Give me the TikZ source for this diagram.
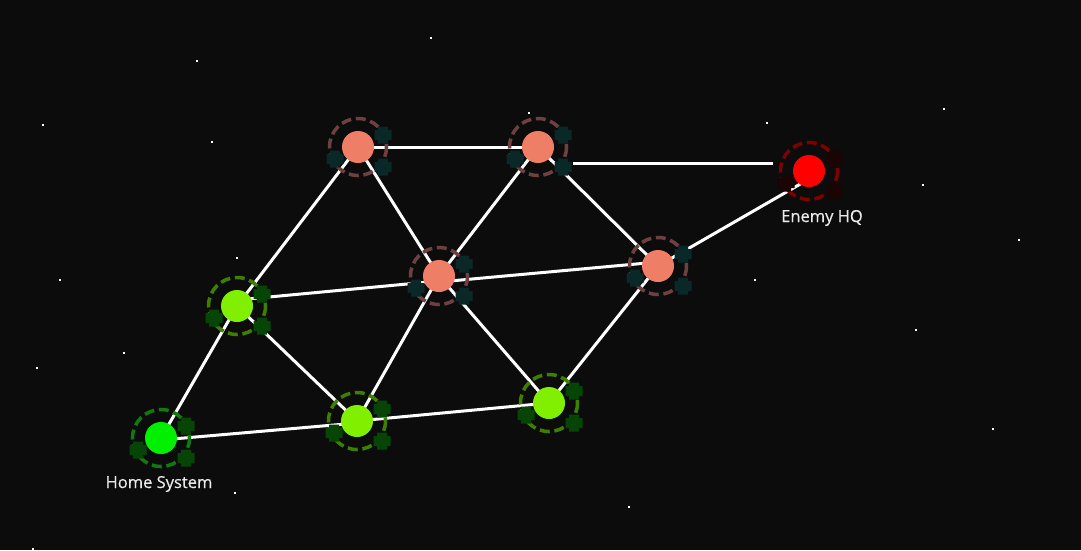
\documentclass[tikz,border=0pt]{standalone}
\usepackage{fontspec}
\setmainfont{Open Sans}
\newfontfamily\lblfont[FakeBold=0.5]{Open Sans}
\usetikzlibrary{calc}
\pgfdeclarelayer{bglayer}
\pgfdeclarelayer{linelayer}
\pgfsetlayers{bglayer,linelayer,main}
\definecolor{bgc}{HTML}{0C0C0C}
\definecolor{labelc}{HTML}{EAEAEA}
\definecolor{homecore}{HTML}{00F000}
\definecolor{homering}{HTML}{107A10}
\definecolor{greenblob}{HTML}{074507}
\definecolor{limecore}{HTML}{80F000}
\definecolor{limering}{HTML}{3F7F00}
\definecolor{salcore}{HTML}{EE7E66}
\definecolor{salring}{HTML}{6E4040}
\definecolor{salblob}{HTML}{0A2828}
\definecolor{hqcore}{HTML}{FF0000}
\definecolor{hqring}{HTML}{800000}
\definecolor{hqblob}{HTML}{1A0404}
\tikzset{
  core/.style={circle, minimum size=32pt, inner sep=0pt, draw=none},
  ring/.style={line width=3.5pt, dash pattern=on 10pt off 4.66pt},
  lane/.style={draw=white, line width=3pt},
  lbl/.style={text=labelc, font=\lblfont\fontsize{16.5}{18}\selectfont},
}
\newcommand\sysdraw[6]{%
  \node[core, fill=#4] (#1) at (#2,#3) {};
  \draw[ring, draw=#5] (#1.center) circle[radius=28.5];
  \foreach \dx/\dy in {25/-12,-23/12,25/20}{%
    \fill[#6] ($(#1.center)+(\dx,\dy)$) +(-8.5,-5) -- +(-5,-5) -- +(-5,-8.5) -- +(5,-8.5) -- +(5,-5) -- +(8.5,-5)
      -- +(8.5,5) -- +(5,5) -- +(5,8.5) -- +(-5,8.5) -- +(-5,5) -- +(-8.5,5) -- cycle;
  }%
}
\begin{document}
\begin{tikzpicture}[x=1pt,y=-1pt]
\useasboundingbox (0,0) rectangle (1081,550);
\begin{pgfonlayer}{bglayer}
  \fill[bgc] (0,0) rectangle (1081,550);
  \foreach \sx/\sy in {197/61,431/38,43/125,212/142,529/113,237/258,767/123,944/109,923/185,1019/240,
                       60/280,124/353,37/368,235/493,33/549,755/280,916/330,993/429,629/507}{
    \fill[white] (\sx-1,\sy-1) rectangle (\sx+1,\sy+1);
  }
\end{pgfonlayer}

\sysdraw{Home}{161}{438}{homecore}{homering}{greenblob}
\sysdraw{G1}{237}{306}{limecore}{limering}{greenblob}
\sysdraw{G2}{357}{421}{limecore}{limering}{greenblob}
\sysdraw{G3}{549}{403}{limecore}{limering}{greenblob}
\sysdraw{S1}{358}{147}{salcore}{salring}{salblob}
\sysdraw{S2}{538}{147}{salcore}{salring}{salblob}
\sysdraw{S3}{439}{276}{salcore}{salring}{salblob}
\sysdraw{S4}{658}{266}{salcore}{salring}{salblob}
\sysdraw{HQ}{809}{171}{hqcore}{hqring}{hqblob}

\node[lbl] (homelbl) at (159,484) {Home System};
\node[lbl] (hqlbl) at (822,218) {Enemy HQ};

\begin{pgfonlayer}{linelayer}
  \draw[lane] ($(Home.center)+(0,2)$) -- ($(G2.center)+(0,2)$);
  \draw[lane] (Home.center) -- (G1.center);
  \draw[lane] (G1.center) -- (G2.center);
  \draw[lane] (G1.center) -- (S1.center);
  \draw[lane] ($(G1.center)+(0,-6)$) -- ($(S3.center)+(0,5)$);
  \draw[lane] (G2.center) -- (S3.center);
  \draw[lane] (G2.center) -- (G3.center);
  \draw[lane] (S3.center) -- (G3.center);
  \draw[lane] (S1.center) -- (S2.center);
  \draw[lane] (S1.center) -- (S3.center);
  \draw[lane] (S2.center) -- (S3.center);
  \draw[lane] (S2.center) -- (S4.center);
  \draw[lane] ($(S3.center)+(0,6)$) -- ($(S4.center)+(0,-4)$);
  \draw[lane] (G3.center) -- (S4.center);
  \draw[lane] (S4.center) -- ($(HQ.center)+(0,8)$);
  \draw[lane] ($(S2.center)+(35,16)$) -- ($(HQ.center)+(-36,-8)$);
\end{pgfonlayer}
\end{tikzpicture}
\end{document}
